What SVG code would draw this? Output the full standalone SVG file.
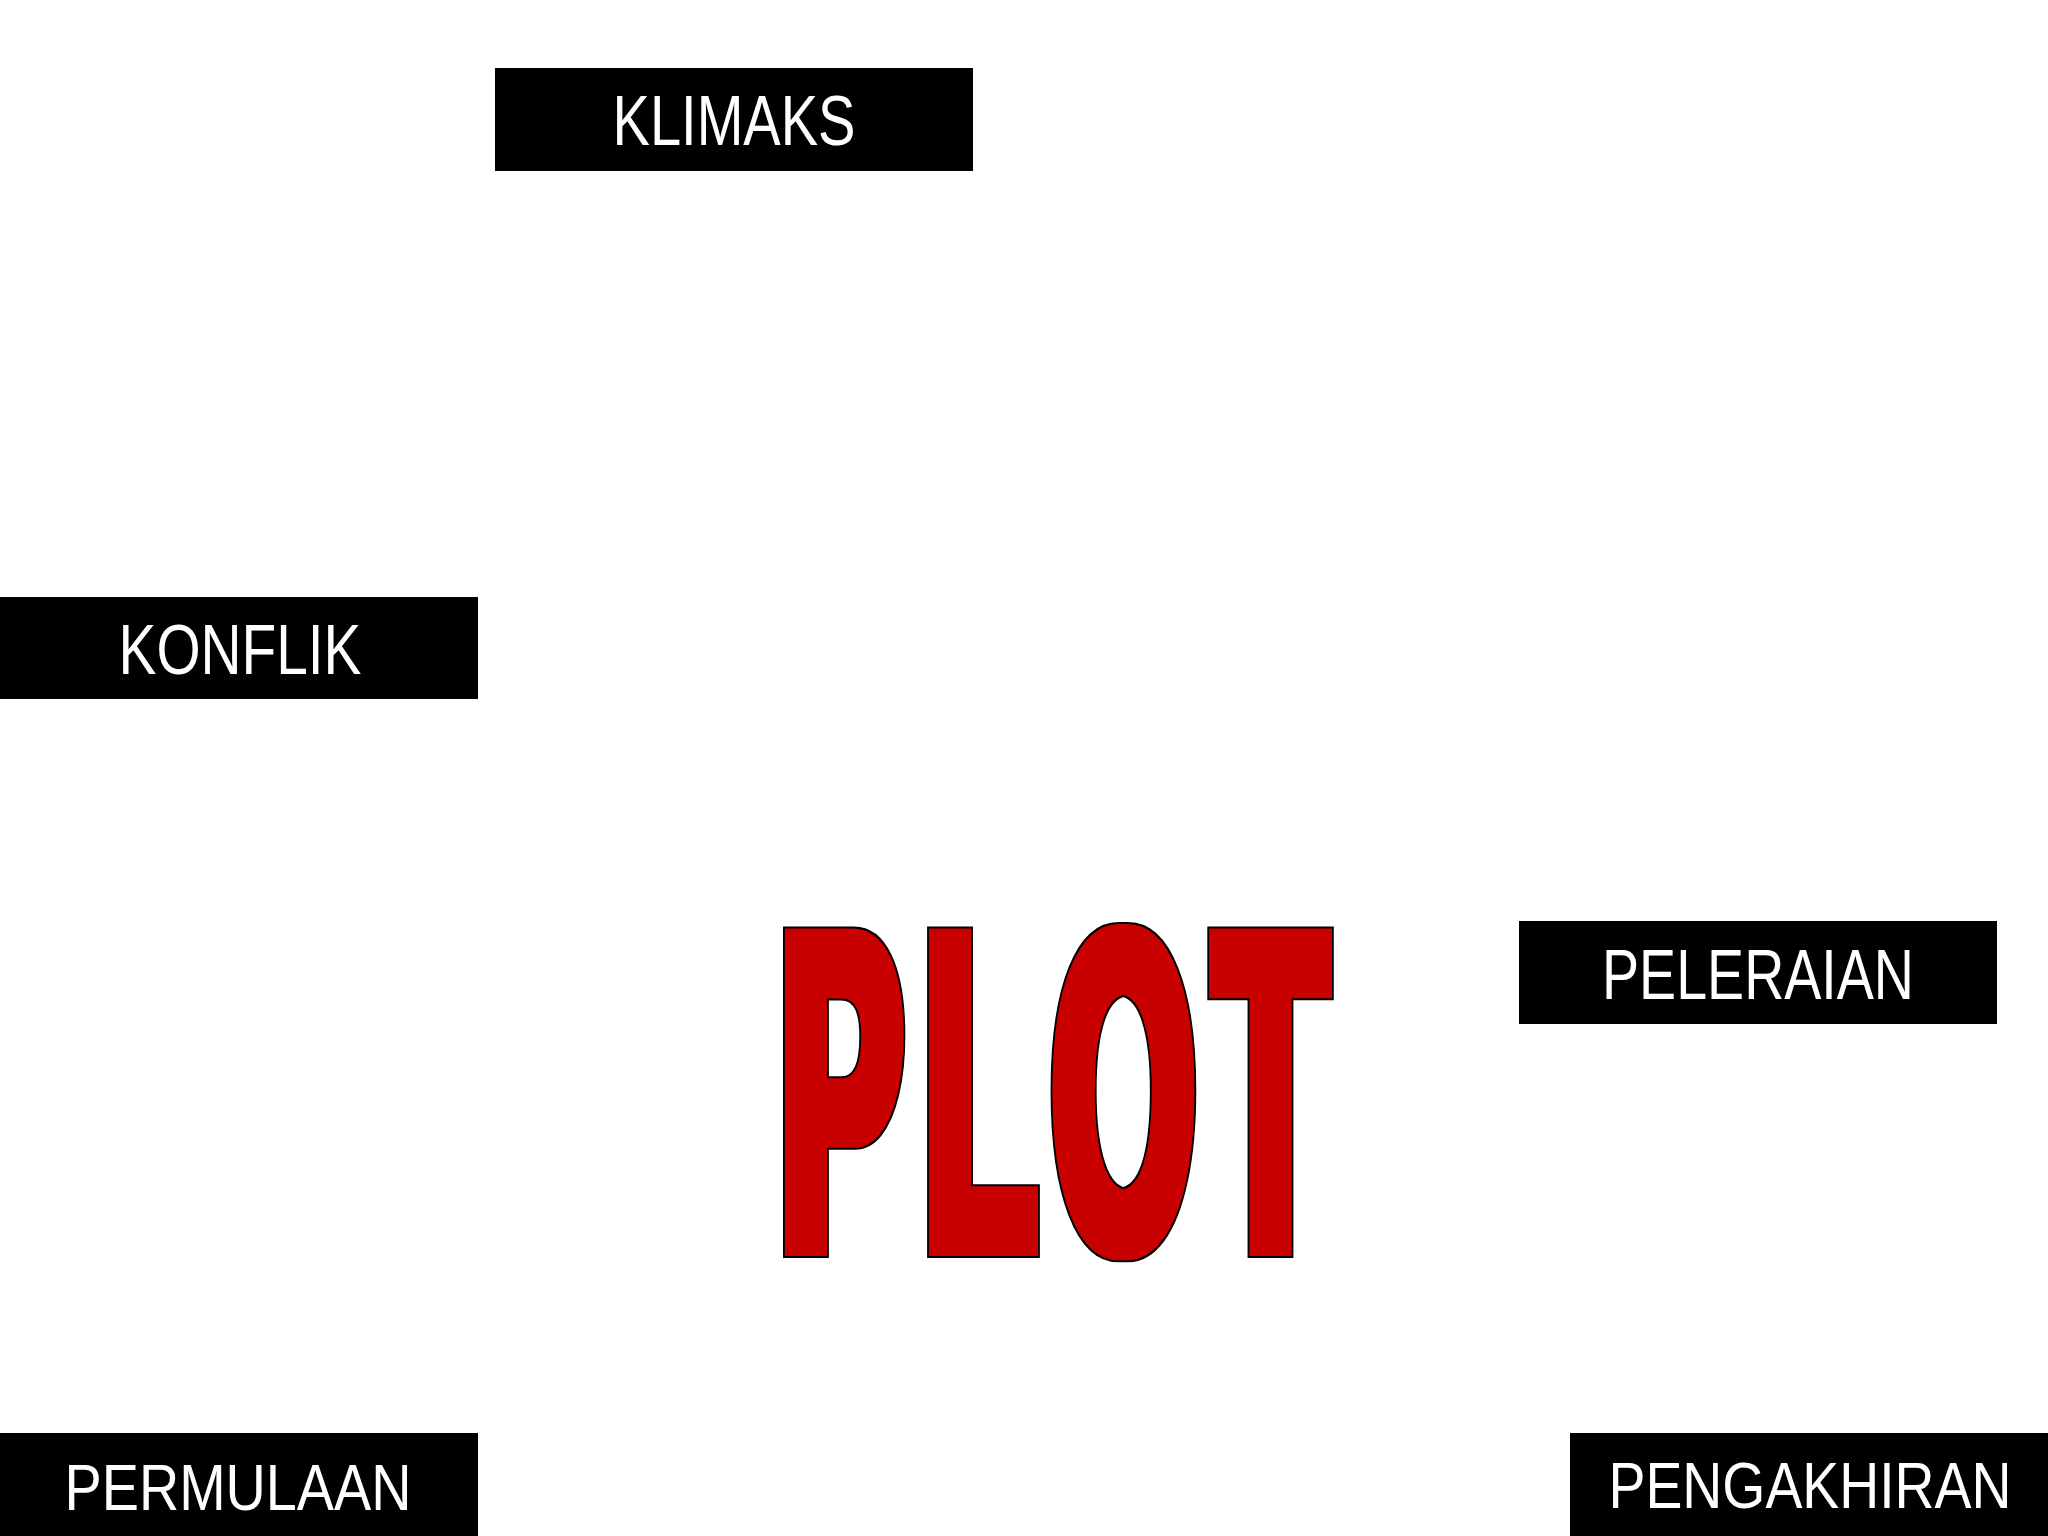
<svg xmlns="http://www.w3.org/2000/svg" width="2048" height="1536" viewBox="0 0 2048 1536">
  <style>
    .box { fill: #000000; }
    .lbl { fill: #ffffff; font-family: "Liberation Sans", Arial, sans-serif; font-size: 70px; text-anchor: middle; }
    .lbl-sm { font-size: 64px; }
    .plot { font-family: "Liberation Sans", Arial, sans-serif; font-weight: bold; font-size: 447px; text-anchor: middle; stroke-linejoin: miter; stroke-miterlimit: 8; }
    .plot-outline { fill: #000000; stroke: #000000; stroke-width: 24px; }
    .plot-fill { fill: #c80000; stroke: #c80000; stroke-width: 20px; }
  </style>
  <defs>
    <filter id="widen-outer" x="-5%" y="-5%" width="110%" height="110%">
      <feMorphology operator="dilate" radius="5.1 0"/>
    </filter>
    <filter id="widen-inner" x="-5%" y="-5%" width="110%" height="110%">
      <feMorphology operator="dilate" radius="3.9 0"/>
    </filter>
  </defs>
  <rect width="2048" height="1536" fill="#ffffff"/>

  <g id="klimaks">
    <rect class="box" x="495" y="68" width="478" height="103"/>
    <text class="lbl" x="734" y="145" textLength="243" lengthAdjust="spacingAndGlyphs">KLIMAKS</text>
  </g>

  <g id="konflik">
    <rect class="box" x="0" y="597" width="478" height="102"/>
    <text class="lbl" x="240" y="674" textLength="243" lengthAdjust="spacingAndGlyphs">KONFLIK</text>
  </g>

  <g id="peleraian">
    <rect class="box" x="1519" y="921" width="478" height="103"/>
    <text class="lbl" x="1758" y="999" textLength="312" lengthAdjust="spacingAndGlyphs">PELERAIAN</text>
  </g>

  <g id="permulaan">
    <rect class="box" x="0" y="1433" width="478" height="103"/>
    <text class="lbl lbl-sm" x="238" y="1510" textLength="347" lengthAdjust="spacingAndGlyphs">PERMULAAN</text>
  </g>

  <g id="pengakhiran">
    <rect class="box" x="1570" y="1433" width="478" height="103"/>
    <text class="lbl lbl-sm" x="1810" y="1508" textLength="403" lengthAdjust="spacingAndGlyphs">PENGAKHIRAN</text>
  </g>

  <g id="plot-title">
    <g class="plot-outline" filter="url(#widen-outer)"><use href="#plotword"/></g>
    <g class="plot-fill" filter="url(#widen-inner)">
      <text id="plotword" class="plot" transform="scale(0.4056,1)" x="2074 2416.7 2770 3132.4" y="1246">PLOT</text>
    </g>
  </g>

  <g id="connectors"></g>
</svg>
